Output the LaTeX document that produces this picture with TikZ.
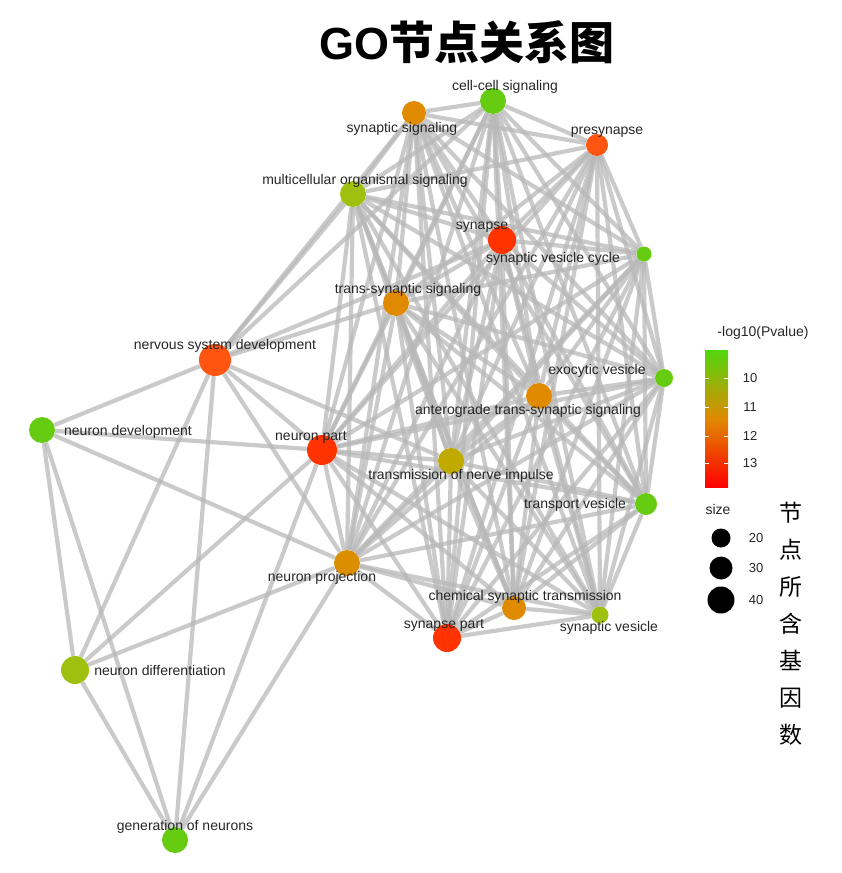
\documentclass[tikz,border=0pt]{standalone}
\usepackage{fontspec}
\setmainfont{Liberation Sans}
\newfontfamily\cjk{Noto Sans CJK SC}
\usetikzlibrary{backgrounds}
\definecolor{cR}{HTML}{FF3300}
\definecolor{cRO}{HTML}{FF5511}
\definecolor{cO}{HTML}{E08A00}
\definecolor{cY}{HTML}{C0AA00}
\definecolor{cYG}{HTML}{A0C010}
\definecolor{cG}{HTML}{66CC11}
\definecolor{eg}{HTML}{B8B8B8}
\begin{document}
\begin{tikzpicture}[x=1pt,y=-1pt,
  gonode/.style={circle,inner sep=0pt,minimum size=#1},
  lab/.style={font=\fontsize{14}{16}\selectfont,text=black!85},
  edge/.style={draw=eg,line width=4.2pt,opacity=0.75}]
\useasboundingbox (0,0) rectangle (841,873);
\node[font=\fontsize{45}{50}\selectfont\bfseries] (title) at (467,42) {GO{\cjk 节点关系图}};
% nodes
\node[gonode=26,fill=cG] (ccs) at (493,101) {};
\node[gonode=24,fill=cO] (ss) at (414,113) {};
\node[gonode=22,fill=cRO] (pre) at (597,145) {};
\node[gonode=26,fill=cYG] (mos) at (353,194) {};
\node[gonode=28,fill=cR] (syn) at (502,240) {};
\node[gonode=15,fill=cG] (svc) at (644,254) {};
\node[gonode=26,fill=cO] (tss) at (396,303) {};
\node[gonode=32,fill=cRO] (nsd) at (215,360) {};
\node[gonode=18,fill=cG] (ev) at (664,378) {};
\node[gonode=26,fill=cO] (ats) at (539,396) {};
\node[gonode=26,fill=cG] (nd) at (42,430) {};
\node[gonode=30,fill=cR] (np) at (322,450) {};
\node[gonode=26,fill=cY] (tni) at (451,461) {};
\node[gonode=22,fill=cG] (tv) at (646,504) {};
\node[gonode=26,fill=cO!85!cY] (nproj) at (347,563) {};
\node[gonode=24,fill=cO] (cst) at (514,608) {};
\node[gonode=17,fill=cYG] (sv) at (600,615) {};
\node[gonode=28,fill=cR] (sp) at (447,638) {};
\node[gonode=28,fill=cYG] (ndiff) at (75,670) {};
\node[gonode=26,fill=cG] (gon) at (175,840) {};
% edges
\begin{scope}[on background layer]
\foreach \a [count=\i] in {ccs,ss,pre,mos,syn,svc,tss,ev,ats,tni,tv,cst,sv,sp,np,nproj}{
  \foreach \b [count=\j] in {ccs,ss,pre,mos,syn,svc,tss,ev,ats,tni,tv,cst,sv,sp,np,nproj}{
    \ifnum\j>\i \draw[edge] (\a)--(\b); \fi }}
\foreach \b in {nd,ndiff,gon,np,mos,tss,tni,nproj,ss,syn,ccs}{\draw[edge] (nsd)--(\b);}
\foreach \b in {ndiff,gon,np,nproj}{\draw[edge] (nd)--(\b);}
\foreach \b in {gon,np,nproj}{\draw[edge] (ndiff)--(\b);}
\foreach \b in {np,nproj}{\draw[edge] (gon)--(\b);}
\end{scope}
% labels
\node[lab] (lccs) at (505,87) {cell-cell signaling};
\node[lab] (lss) at (402,129) {synaptic signaling};
\node[lab] (lpre) at (607,132) {presynapse};
\node[lab] (lmos) at (365,181) {multicellular organismal signaling};
\node[lab] (lsyn) at (482,227) {synapse};
\node[lab] (lsvc) at (553,259) {synaptic vesicle cycle};
\node[lab] (ltss) at (408,290) {trans-synaptic signaling};
\node[lab] (lnsd) at (225,346) {nervous system development};
\node[lab] (lev) at (597,371) {exocytic vesicle};
\node[lab] (lats) at (528,411) {anterograde trans-synaptic signaling};
\node[lab] (lnd) at (128,432) {neuron development};
\node[lab] (lnp) at (311,437) {neuron part};
\node[lab] (ltni) at (461,476) {transmission of nerve impulse};
\node[lab] (ltv) at (575,505) {transport vesicle};
\node[lab] (lnproj) at (322,578) {neuron projection};
\node[lab] (lcst) at (525,597) {chemical synaptic transmission};
\node[lab] (lsv) at (609,628) {synaptic vesicle};
\node[lab] (lsp) at (444,625) {synapse part};
\node[lab] (lndiff) at (160,670) {neuron differentiation};
\node[lab] (lgon) at (185,827) {generation of neurons};
% legend
\node[lab] (ltitle) at (763,333) {-log10(Pvalue)};
\shade[top color=cG!80!green, bottom color=red, middle color=cO] (705,350) rectangle (728,487);
\foreach \v/\y in {10/378,11/407,12/436,13/463}{
  \draw[white,line width=0.8pt] (705,\y)--(709,\y) (724,\y)--(728,\y);
  \node[lab,font=\fontsize{13}{15}\selectfont] (t\v) at (750,\y) {\v};}
\node[lab] (lsize) at (718,509) {size};
\node[gonode=19,fill=black] (s20) at (721,538) {};
\node[gonode=23,fill=black] (s30) at (721,568) {};
\node[gonode=27,fill=black] (s40) at (721,600) {};
\node[lab,font=\fontsize{13}{15}\selectfont] (ls20) at (756,538) {20};
\node[lab,font=\fontsize{13}{15}\selectfont] (ls30) at (756,568) {30};
\node[lab,font=\fontsize{13}{15}\selectfont] (ls40) at (756,600) {40};
\node[font=\fontsize{23}{37}\selectfont\cjk,align=center] (vt) at (791,624) {节\\点\\所\\含\\基\\因\\数};
\end{tikzpicture}
\end{document}
